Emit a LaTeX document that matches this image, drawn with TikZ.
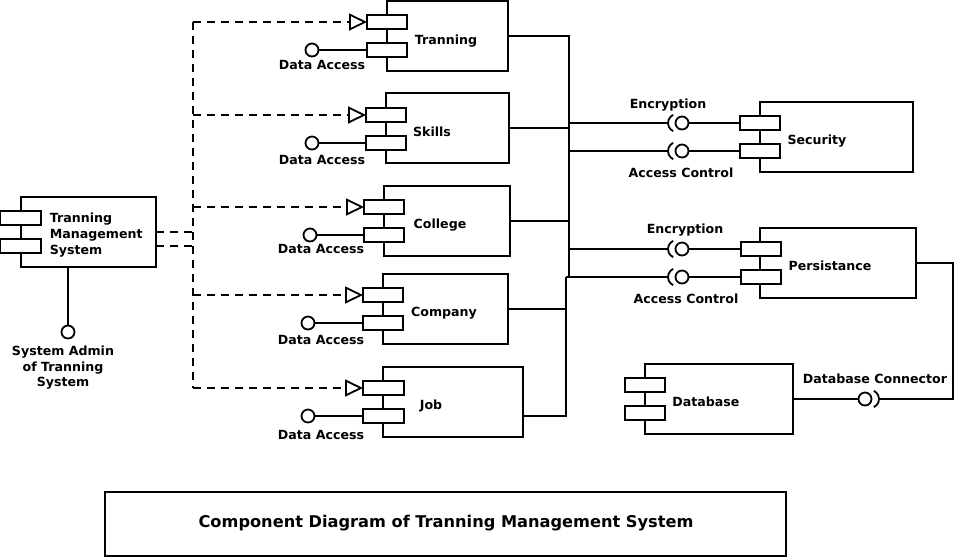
\documentclass[tikz,border=0pt]{standalone}
\usepackage{fontspec}
\setmainfont{DejaVu Sans}
\usetikzlibrary{arrows.meta}
\newcommand{\bx}[6][]{\node[box,#1,minimum width={(#5-#3)*1pt},minimum height={(#6-#4)*1pt}] (#2) at (#3,#4) {};}
\newcommand{\sockL}[1]{\draw ([xshift=-5pt]#1.center) ++(115:9pt) arc[start angle=115,end angle=245,radius=9pt];}
\newcommand{\sockR}[1]{\draw ([xshift=5pt]#1.center) ++(-65:9pt) arc[start angle=-65,end angle=65,radius=9pt];}
\begin{document}
\begin{tikzpicture}[x=1pt,y=-1pt,line width=1.8pt,
  box/.style={draw,rectangle,inner sep=0pt,outer sep=0pt,anchor=north west},
  port/.style={box,fill=white},
  ball/.style={circle,draw,fill=white,minimum size=13pt,inner sep=0pt,outer sep=0pt},
  lbl/.style={inner sep=0pt,anchor=base,font=\bfseries\fontsize{12.6}{16}\selectfont},
  dep/.style={dash pattern=on 8pt off 6pt,-{Triangle[open,length=18pt,width=17pt]}},
  depl/.style={dash pattern=on 8pt off 6pt}]
\useasboundingbox (0,0) rectangle (956,558);
% ---------- components ----------
\bx{tms}{21}{197}{156}{267}
\bx[port]{tmsP1}{0}{211}{41}{225}
\bx[port]{tmsP2}{0}{239}{41}{253}
\node[lbl,anchor=west,align=left] (tmsL) at (49,235) {Tranning\\Management\\System};

\bx{tran}{387}{1}{508}{71}
\bx[port]{tranP1}{367}{15}{407}{29}
\bx[port]{tranP2}{367}{43}{407}{57}
\node[lbl] (tranL) at (446,44) {Tranning};

\bx{skills}{386}{93}{509}{163}
\bx[port]{skillsP1}{366}{108}{406}{122}
\bx[port]{skillsP2}{366}{136}{406}{150}
\node[lbl] (skillsL) at (432,136) {Skills};

\bx{college}{384}{186}{510}{256}
\bx[port]{collegeP1}{364}{200}{404}{214}
\bx[port]{collegeP2}{364}{228}{404}{242}
\node[lbl] (collegeL) at (440,228) {College};

\bx{company}{383}{274}{508}{344}
\bx[port]{companyP1}{363}{288}{403}{302}
\bx[port]{companyP2}{363}{316}{403}{330}
\node[lbl] (companyL) at (444,316) {Company};

\bx{job}{383}{367}{523}{437}
\bx[port]{jobP1}{363}{381}{404}{395}
\bx[port]{jobP2}{363}{409}{404}{423}
\node[lbl] (jobL) at (431,409) {Job};

\bx{sec}{760}{102}{913}{172}
\bx[port]{secP1}{740}{116}{780}{130}
\bx[port]{secP2}{740}{144}{780}{158}
\node[lbl] (secL) at (817,144) {Security};

\bx{pers}{760}{228}{916}{298}
\bx[port]{persP1}{741}{242}{781}{256}
\bx[port]{persP2}{741}{270}{781}{284}
\node[lbl] (persL) at (830,270) {Persistance};

\bx{db}{645}{364}{793}{434}
\bx[port]{dbP1}{625}{378}{665}{392}
\bx[port]{dbP2}{625}{406}{665}{420}
\node[lbl] (dbL) at (706,406) {Database};

% ---------- provided interfaces (Data Access) ----------
\node[ball] (daT) at (312,50) {};
\node[ball] (daS) at (312,143) {};
\node[ball] (daC) at (310,235) {};
\node[ball] (daCo) at (308,323) {};
\node[ball] (daJ) at (308,416) {};
\draw (daT) -- (tranP2);
\draw (daS) -- (skillsP2);
\draw (daC) -- (collegeP2);
\draw (daCo) -- (companyP2);
\draw (daJ) -- (jobP2);
\node[lbl] (daTL) at (322,69) {Data Access};
\node[lbl] (daSL) at (322,164) {Data Access};
\node[lbl] (daCL) at (321,253) {Data Access};
\node[lbl] (daCoL) at (321,344) {Data Access};
\node[lbl] (daJL) at (321,439) {Data Access};

% ---------- system admin ----------
\node[ball] (adm) at (68,332) {};
\draw (adm |- tms.south) -- (adm);
\node[lbl,anchor=center,align=center,font=\bfseries\fontsize{12.6}{15.5}\selectfont] (admL) at (63,368) {System Admin\\of Tranning\\System};

% ---------- dependencies (dashed) ----------
\coordinate (dTop) at (193,22);
\coordinate (dBot) at (193,388);
\coordinate (dM1) at (193,232);
\coordinate (dM2) at (193,246);
\draw[depl] (tms.east) -- (dM1);
\draw[depl] ([yshift=-14pt]tms.east) -- (dM2);
\draw[depl] (dTop) -- (dBot);
\draw[dep] (dTop) -- (tranP1.west);
\draw[dep] (skillsP1.west -| dTop) -- (skillsP1.west);
\draw[dep] (collegeP1.west -| dTop) -- (collegeP1.west);
\draw[dep] (companyP1.west -| dTop) -- (companyP1.west);
\draw[dep] (dBot) -- (jobP1.west);

% ---------- right bus ----------
\coordinate (bA) at (569,36);
\coordinate (bB) at (569,277);
\coordinate (bC) at (566,277);
\coordinate (bD) at (566,416);
\draw (tran.east) -- (bA) -- (bB);
\draw (skills.east) -- (skills.east -| bA);
\draw (college.east) -- (college.east -| bA);
\draw (company.east) -- (company.east -| bC);
\draw ([yshift=-14pt]job.east) -- (bD) -- (bC);

% ---------- required/provided interfaces of Security & Persistance ----------
\node[ball] (sE) at (682,123) {};
\node[ball] (sA) at (682,151) {};
\node[ball] (pE) at (682,249) {};
\node[ball] (pA) at (682,277) {};
\sockL{sE}\sockL{sA}\sockL{pE}\sockL{pA}
\draw (sE -| bA) -- ([xshift=-14pt]sE.center);
\draw (sA -| bA) -- ([xshift=-14pt]sA.center);
\draw (pE -| bA) -- ([xshift=-14pt]pE.center);
\draw (bC) -- ([xshift=-14pt]pA.center);
\draw (sE) -- (secP1);
\draw (sA) -- (secP2);
\draw (pE) -- (persP1);
\draw (pA) -- (persP2);
\node[lbl] (sEL) at (668,108) {Encryption};
\node[lbl] (sAL) at (681,177) {Access Control};
\node[lbl] (pEL) at (685,233) {Encryption};
\node[lbl] (pAL) at (686,303) {Access Control};

% ---------- database connector ----------
\node[ball] (dbc) at (865,399) {};
\sockR{dbc}
\coordinate (pR) at (953,263);
\draw (dbc -| db.east) -- (dbc);
\draw ([xshift=14pt]dbc.center) -- (dbc -| pR) -- (pR) -- (pers.east);
\node[lbl] (dbcL) at (875,383) {Database Connector};

% ---------- title ----------
\bx{title}{105}{492}{786}{556}
\node[inner sep=0pt,font=\bfseries\fontsize{16.2}{19}\selectfont] (titleL) at (446,523) {Component Diagram of Tranning Management System};
\end{tikzpicture}
\end{document}
